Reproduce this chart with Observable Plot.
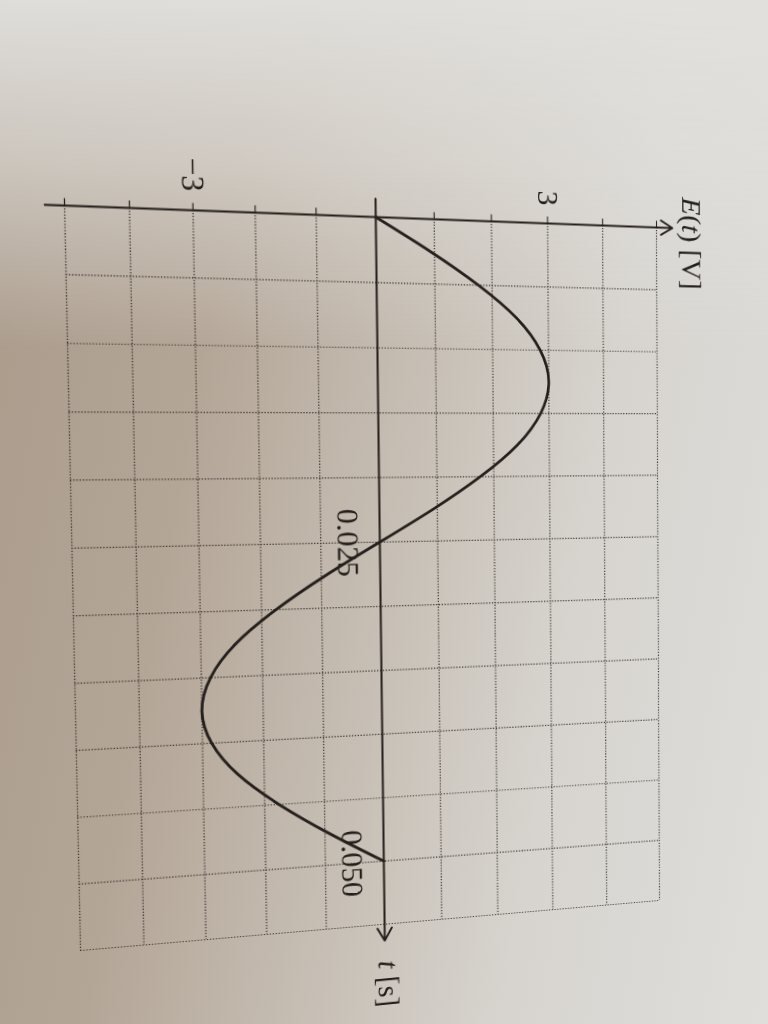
<!DOCTYPE html>
<html>
<head>
<meta charset="utf-8">
<script src="https://cdn.jsdelivr.net/npm/d3@7"></script>
<script src="https://cdn.jsdelivr.net/npm/@observablehq/plot@0.6"></script>
<style>
  html, body { margin: 0; padding: 0; width: 768px; height: 1024px; overflow: hidden; }
  body {
    background:
      linear-gradient(to bottom, rgba(226,225,222,0.95) 0%, rgba(226,225,222,0.6) 16%, rgba(226,225,222,0) 34%),
      linear-gradient(100deg, #a99a8a 0%, #b4a697 28%, #c7bfb5 52%, #d7d4cf 72%, #dfdedb 100%);
  }
  #chart { position: absolute; left: 0; top: 0; width: 768px; height: 1024px; }
  #chart svg { transform-origin: 0 0; }
</style>
</head>
<body>
<div id="chart"></div>
<script>
// ---- data ----
const timeValues = [0, 0.0025, 0.005, 0.0075, 0.01, 0.0125, 0.015, 0.0175, 0.02, 0.0225, 0.025,
                    0.0275, 0.03, 0.0325, 0.035, 0.0375, 0.04, 0.0425, 0.045, 0.0475, 0.05];
const voltageValues = [0, 0.93, 1.76, 2.43, 2.85, 3.0, 2.85, 2.43, 1.76, 0.93, 0,
                       -0.93, -1.76, -2.43, -2.85, -3.0, -2.85, -2.43, -1.76, -0.93, 0];
const voltageGrid = [-5, -4, -3, -2, -1, 0, 1, 2, 3, 4, 5];
const timeGrid = [0, 0.005, 0.01, 0.015, 0.02, 0.025, 0.03, 0.035, 0.04, 0.045, 0.05, 0.055];
const voltageTickValues = [-3, 3];
const voltageTickLabels = ["\u22123", "3"];
const timeTickValues = [0.025, 0.05];
const timeTickLabels = ["0.025", "0.050"];
const voltageAxisLabel = "E(t) [V]";
const timeAxisLabel = "t [s]";

const curve = timeValues.map((t, i) => ({t, E: voltageValues[i]}));

const ink = "#241f1c";
const font = "Liberation Serif, Times New Roman, serif";

const chart = Plot.plot({
  width: 768,
  height: 1024,
  margin: 0,
  style: {background: "transparent", overflow: "visible"},
  x: {domain: [-5, 5], range: [70, 658], axis: null},
  y: {domain: [0, 0.055], range: [217, 925], axis: null},
  marks: [
    // dotted grid
    Plot.ruleX(voltageGrid, {x: d => d, y1: 0, y2: 0.055, stroke: "#3e3834", strokeWidth: 1.2, strokeDasharray: "1.3,1.6"}),
    Plot.ruleY(timeGrid, {y: d => d, x1: -5, x2: 5, stroke: "#3e3834", strokeWidth: 1.2, strokeDasharray: "1.3,1.6"}),
    // small ticks on the voltage axis
    Plot.ruleX(voltageGrid, {x: d => d, y1: -0.0005, y2: 0, stroke: ink, strokeWidth: 1.1}),
    // axes with arrows
    Plot.arrow([{x1: -5.3, x2: 5.3, y: 0}], {x1: "x1", x2: "x2", y1: "y", y2: "y", stroke: ink, strokeWidth: 2, headLength: 11}),
    Plot.arrow([{x: 0, y1: -0.0014, y2: 0.0563}], {x1: "x", x2: "x", y1: "y1", y2: "y2", stroke: ink, strokeWidth: 2, headLength: 11}),
    // the curve
    Plot.line(curve, {x: "E", y: "t", curve: "natural", stroke: ink, strokeWidth: 2.8}),
    // tick labels
    Plot.text(voltageTickValues, {x: d => d, y: -0.0014, text: (d, i) => voltageTickLabels[i], rotate: 90,
      textAnchor: "end", lineAnchor: "middle", fontSize: 30, fontFamily: font, fill: ink}),
    Plot.text(timeTickValues, {x: -0.55, y: d => d, text: (d, i) => timeTickLabels[i], rotate: 90,
      textAnchor: "middle", lineAnchor: "middle", fontSize: 30, fontFamily: font, fill: ink}),
    // axis labels
    Plot.text([voltageAxisLabel], {x: 5.65, y: 0.0012, text: d => d, rotate: 90,
      textAnchor: "middle", lineAnchor: "middle", fontSize: 30, fontFamily: font, fill: ink}),
    Plot.text([timeAxisLabel], {x: 0.05, y: 0.0579, text: d => d, rotate: 90,
      textAnchor: "start", lineAnchor: "middle", fontSize: 30, fontFamily: font, fill: ink})
  ]
});

// italic variable names (E, t) as in the LaTeX original
chart.querySelectorAll("text").forEach(el => {
  const s = el.textContent;
  if (s === voltageAxisLabel || s === timeAxisLabel) {
    while (el.firstChild) el.removeChild(el.firstChild);
    for (const ch of s) {
      const span = document.createElementNS("http://www.w3.org/2000/svg", "tspan");
      span.textContent = ch;
      if (ch === "E" || ch === "t") span.setAttribute("font-style", "italic");
      el.appendChild(span);
    }
  }
});

document.getElementById("chart").appendChild(chart);

// photographic perspective: map the flat plot frame onto the photographed sheet
function homography(src, dst) {
  const A = [], b = [];
  for (let i = 0; i < 4; i++) {
    const [x, y] = src[i], [u, v] = dst[i];
    A.push([x, y, 1, 0, 0, 0, -u * x, -u * y]); b.push(u);
    A.push([0, 0, 0, x, y, 1, -v * x, -v * y]); b.push(v);
  }
  const n = 8;
  for (let c = 0; c < n; c++) {
    let p = c;
    for (let r = c + 1; r < n; r++) if (Math.abs(A[r][c]) > Math.abs(A[p][c])) p = r;
    [A[c], A[p]] = [A[p], A[c]]; [b[c], b[p]] = [b[p], b[c]];
    for (let r = 0; r < n; r++) {
      if (r === c) continue;
      const f = A[r][c] / A[c][c];
      for (let k = c; k < n; k++) A[r][k] -= f * A[c][k];
      b[r] -= f * b[c];
    }
  }
  return b.map((v, i) => v / A[i][i]);
}
const sx = chart.scale("x"), sy = chart.scale("y");
const src = [[sx.apply(-5), sy.apply(0)], [sx.apply(5), sy.apply(0)], [sx.apply(5), sy.apply(0.055)], [sx.apply(-5), sy.apply(0.055)]];
const dst = [[64, 205], [656, 227], [659, 900], [80, 950]];
const h = homography(src, dst);
chart.style.transform = `matrix3d(${h[0]},${h[3]},0,${h[6]},${h[1]},${h[4]},0,${h[7]},0,0,1,0,${h[2]},${h[5]},0,1)`;
</script>
</body>
</html>
